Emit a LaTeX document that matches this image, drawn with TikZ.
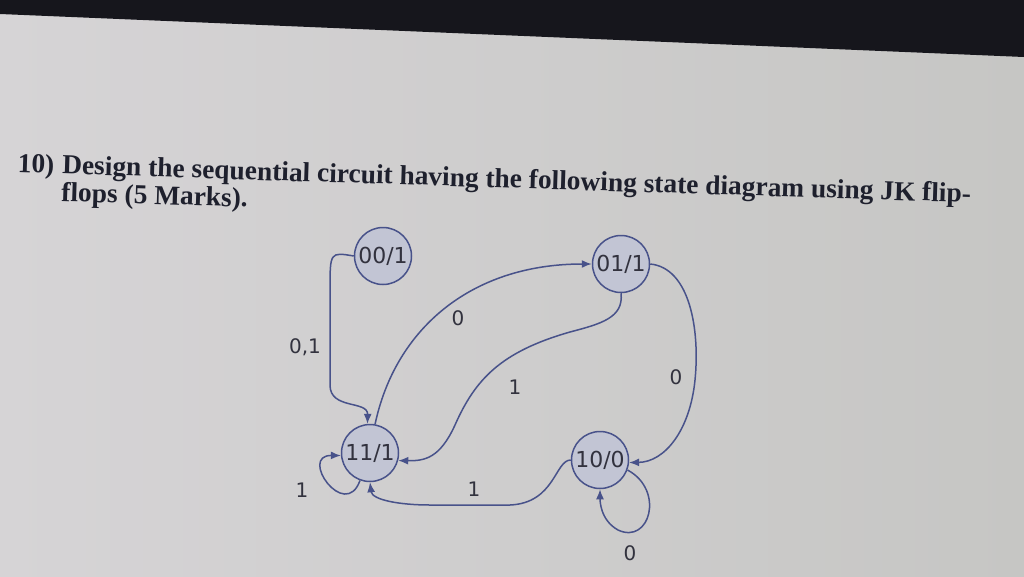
\documentclass[tikz,border=0pt]{standalone}
\usepackage{fontspec}
\setmainfont{Liberation Serif}
\newfontfamily\nodefont{DejaVu Sans}
\usetikzlibrary{arrows.meta}
\definecolor{edgecol}{RGB}{72,82,138}
\definecolor{nodefill}{RGB}{194,197,212}
\definecolor{txtcol}{RGB}{50,50,62}
\definecolor{bgL}{RGB}{214,212,214}
\definecolor{bgR}{RGB}{198,198,196}
\definecolor{bandcol}{RGB}{22,22,28}
\definecolor{titlecol}{RGB}{30,32,45}
\tikzset{
  state/.style={circle, draw=edgecol, line width=1.5pt, fill=nodefill, minimum size=57pt, inner sep=0pt,
    font=\nodefont\fontsize{22}{22}\selectfont, text=txtcol},
  trans/.style={draw=edgecol, line width=1.5pt, -{Latex[length=10pt,width=8pt]}},
  lbl/.style={font=\nodefont\fontsize{20}{20}\selectfont, text=txtcol, inner sep=0pt},
  titletxt/.style={font=\bfseries\fontsize{27.4}{27}\selectfont, text=titlecol, anchor=north west, inner sep=0pt, rotate=-1.8}
}
\begin{document}
\begin{tikzpicture}[x=1pt,y=-1pt]
\useasboundingbox (0,0) rectangle (1024,576);
\shade[left color=bgL, right color=bgR] (0,0) rectangle (1024,576);
\fill[bandcol] (0,0) -- (1024,0) -- (1024,57) -- (0,14) -- cycle;

\node[titletxt] (title) at (18,153) {\begin{tabular}{@{}l@{\hspace{8pt}}l@{}}
10) & Design the sequential circuit having the following state diagram using JK flip-\\
    & flops (5 Marks).
\end{tabular}};

\node[state] (s00) at (383,256) {00/1};
\node[state] (s01) at (621,264) {01/1};
\node[state] (s11) at (370,453) {11/1};
\node[state] (s10) at (600,460) {10/0};

% 00/1 -> 11/1
\draw[trans] (s00.west) .. controls (330,252) .. (330,290) -- (330,385)
  .. controls (330,410) and (368,400) .. (s11.95);
% 11/1 -> 01/1
\draw[trans] (s11.80) .. controls (395,330) and (470,264) .. (s01.west);
% 01/1 -> 11/1
\draw[trans] (s01.south) .. controls (624,318) and (600,324) .. (570,332)
  .. controls (500,352) and (475,380) .. (455,425)
  .. controls (440,458) and (425,461) .. (s11.-15);
% 01/1 -> 10/0
\draw[trans] (s01.east) .. controls (690,268) and (700,330) .. (695,380)
  .. controls (690,430) and (665,462) .. (s10.-5);
% 10/0 -> 11/1
\draw[trans] (s10.west) .. controls (555,460) and (555,503) .. (510,505) -- (430,505)
  .. controls (400,505) and (372,500) .. (s11.south);
% self loop 11/1
\draw[trans] (s11.250) .. controls (345,522) and (298,455) .. (s11.185);
% self loop 10/0
\draw[trans] (s10.-20) .. controls (665,490) and (650,545) .. (618,530)
  .. controls (600,520) and (600,500) .. (s10.south);

\node[lbl] (l1) at (305,347) {0,1};
\node[lbl] (l2) at (458,318) {0};
\node[lbl] (l3) at (515,387) {1};
\node[lbl] (l4) at (676,377) {0};
\node[lbl] (l5) at (474,489) {1};
\node[lbl] (l6) at (302,490) {1};
\node[lbl] (l7) at (630,553) {0};
\end{tikzpicture}
\end{document}
